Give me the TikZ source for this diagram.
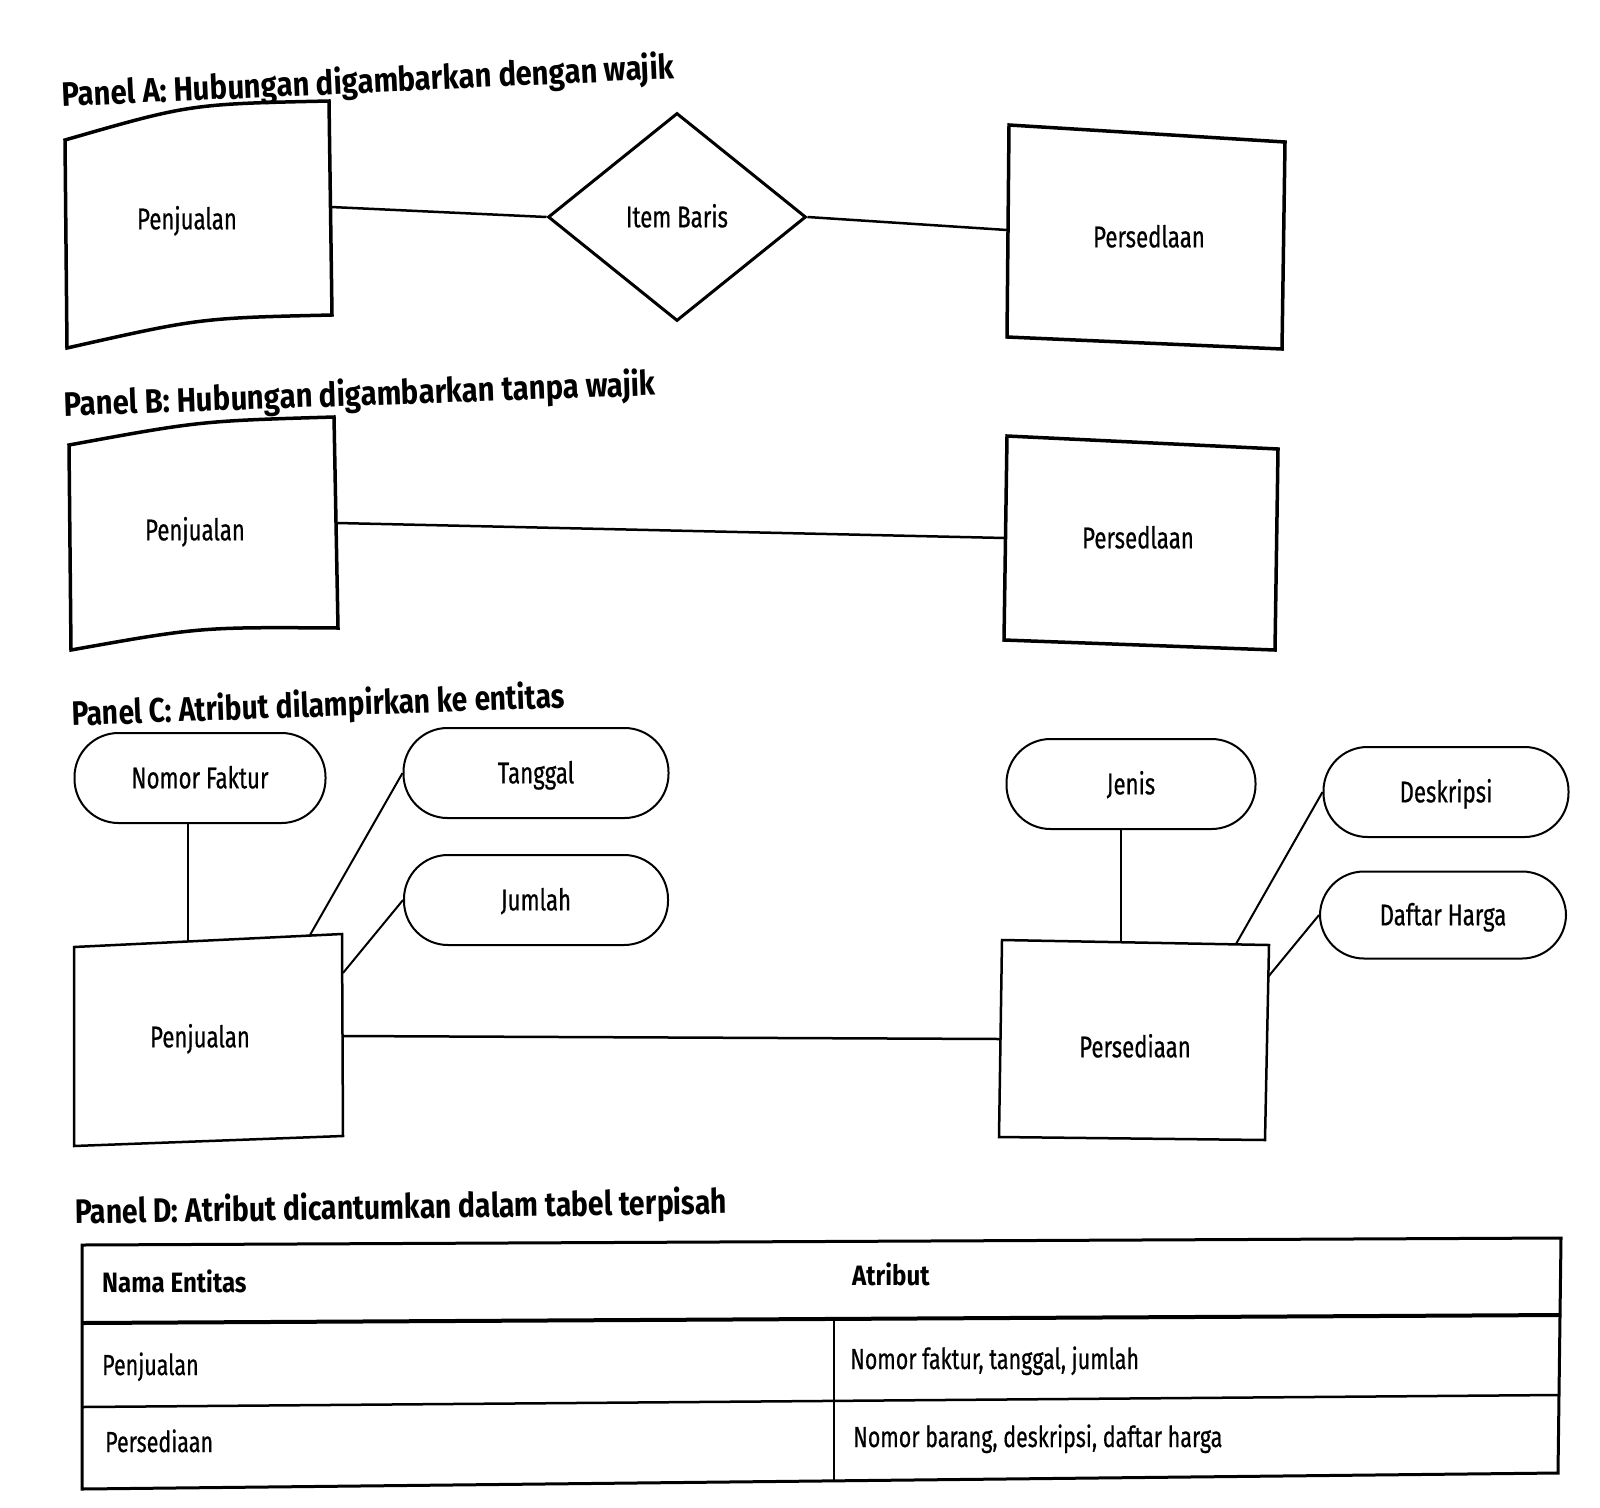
\documentclass[tikz,border=0pt]{standalone}
\usepackage{fontspec}
\setmainfont{Fira Sans}[FakeStretch=0.74, FakeBold=0.5]
\newfontfamily\ttlfont{Fira Sans}[FakeStretch=0.86]
\usetikzlibrary{shapes.geometric}
\begin{document}
\begin{tikzpicture}[x=1pt,y=-1pt,
  ent/.style={line width=3.5pt, line join=miter},
  entc/.style={line width=2.5pt, line join=miter},
  conn/.style={line width=2pt},
  lbl/.style={font=\fontsize{30}{34}\selectfont, inner sep=0pt, text height=20.7pt, text depth=0pt},
  attr/.style={lbl, draw, line width=2pt, rounded corners=44pt, minimum height=90pt},
  ttl/.style={font=\ttlfont\bfseries\fontsize{34}{40}\selectfont, inner sep=0pt, text height=23.4pt, text depth=0pt},
  tbl/.style={font=\fontsize{29}{33}\selectfont, inner sep=0pt, anchor=west, text height=20pt, text depth=0pt},
  tblh/.style={tbl, font=\ttlfont\bfseries\fontsize{28}{33}\selectfont},
]
\useasboundingbox (0,0) rectangle (1600,1507);

% ---------- Panel A ----------
\node[ttl, rotate=2.6] (tA) at (368,81) {Panel A: Hubungan digambarkan dengan wajik};
\coordinate (pA-tl) at (65,140);
\coordinate (pA-tr) at (329,101);
\coordinate (pA-br) at (332,315);
\coordinate (pA-bl) at (67,348);
\draw[ent] (pA-tl) .. controls (190,104) .. (pA-tr) -- (pA-br) .. controls (200,318) .. (pA-bl) -- cycle;
\node[lbl] (pA) at (187,219) {Penjualan};
\coordinate (pA-e) at (331,207);

\node[draw, diamond, line width=3pt, minimum width=258pt, minimum height=208pt, inner sep=0pt, lbl] (ib) at (677,217) {Item Baris};

\coordinate (sA-tl) at (1009,125);
\coordinate (sA-tr) at (1285,142);
\coordinate (sA-br) at (1282,349);
\coordinate (sA-bl) at (1007,337);
\draw[ent] (sA-tl) -- (sA-tr) -- (sA-br) -- (sA-bl) -- cycle;
\node[lbl] (sA) at (1149,237) {Persedlaan};
\coordinate (sA-w) at (1007,230);

\draw[conn, line width=2.5pt] (pA-e) -- (ib.west);
\draw[conn, line width=2.5pt] (ib.east) -- (sA-w);

% ---------- Panel B ----------
\node[ttl, rotate=2.0] (tB) at (360,394) {Panel B: Hubungan digambarkan tanpa wajik};
\coordinate (pB-tl) at (69,445);
\coordinate (pB-tr) at (334,417);
\coordinate (pB-br) at (338,628);
\coordinate (pB-bl) at (71,650);
\draw[ent] (pB-tl) .. controls (200,421) .. (pB-tr) -- (pB-br) .. controls (200,627) .. (pB-bl) -- cycle;
\node[lbl] (pB) at (195,530) {Penjualan};
\coordinate (pB-e) at (337,523);

\coordinate (sB-tl) at (1007,436);
\coordinate (sB-tr) at (1278,449);
\coordinate (sB-br) at (1275,650);
\coordinate (sB-bl) at (1004,640);
\draw[ent] (sB-tl) -- (sB-tr) -- (sB-br) -- (sB-bl) -- cycle;
\node[lbl] (sB) at (1138,538) {Persedlaan};
\coordinate (sB-w) at (1005,538);

\draw[conn, line width=2.5pt] (pB-e) -- (sB-w);

% ---------- Panel C ----------
\node[ttl, rotate=2.1] (tC) at (318,705) {\scalebox{0.962}[1]{Panel C: Atribut dilampirkan ke entitas}};

\node[attr, minimum width=251pt] (nf) at (200,778) {Nomor Faktur};
\node[attr, minimum width=265pt] (tg) at (536,773) {Tanggal};
\node[attr, minimum width=264pt] (jm) at (536,900) {Jumlah};
\node[attr, minimum width=249pt] (jn) at (1131,784) {Jenis};
\node[attr, minimum width=245pt] (ds) at (1446,792) {Deskripsi};
\node[attr, minimum width=246pt, minimum height=87pt] (dh) at (1443,915) {Daftar Harga};

\coordinate (pC-tl) at (74,947);
\coordinate (pC-tr) at (342,934);
\coordinate (pC-br) at (343,1136);
\coordinate (pC-bl) at (74,1146);
\draw[entc] (pC-tl) -- (pC-tr) -- (pC-br) -- (pC-bl) -- cycle;
\node[lbl] (pC) at (200,1037) {Penjualan};
\coordinate (pC-n) at (188,941);
\coordinate (pC-ne) at (310,935);
\coordinate (pC-e1) at (343,973);
\coordinate (pC-e) at (343,1036);

\coordinate (sC-tl) at (1002,940);
\coordinate (sC-tr) at (1269,945);
\coordinate (sC-br) at (1265,1140);
\coordinate (sC-bl) at (999,1137);
\draw[entc] (sC-tl) -- (sC-tr) -- (sC-br) -- (sC-bl) -- cycle;
\node[lbl] (sC) at (1135,1047) {Persediaan};
\coordinate (sC-n) at (1121,942);
\coordinate (sC-ne) at (1236,944);
\coordinate (sC-e1) at (1268,977);
\coordinate (sC-w) at (1000,1039);

\draw[conn, line width=1.5pt] (pC-n |- nf.south) -- (pC-n);
\draw[conn] (tg.west) -- (pC-ne);
\draw[conn] (jm.west) -- (pC-e1);
\draw[conn, line width=2.5pt] (pC-e) -- (sC-w);
\draw[conn, line width=1.5pt] (sC-n |- jn.south) -- (sC-n);
\draw[conn] (ds.west) -- (sC-ne);
\draw[conn] (dh.west) -- (sC-e1);

% ---------- Panel D ----------
\node[ttl, rotate=0.9] (tD) at (401,1207) {\scalebox{0.971}[1]{Panel D: Atribut dicantumkan dalam tabel terpisah}};
\coordinate (t-tl) at (82,1245);
\coordinate (t-tr) at (1561,1238);
\coordinate (t-br) at (1558,1473);
\coordinate (t-bl) at (82,1489);
\coordinate (h-l) at (82,1323);
\coordinate (h-r) at (1561,1315);
\coordinate (r-l) at (82,1407);
\coordinate (r-r) at (1558,1395);
\coordinate (d-t) at (834,1319);
\coordinate (d-b) at (834,1481);
\draw[line width=3pt, line join=miter] (t-tl) -- (t-tr) -- (t-br) -- (t-bl) -- cycle;
\draw[line width=4pt] (h-l) -- (h-r);
\draw[line width=2.5pt] (r-l) -- (r-r);
\draw[line width=2pt] (d-t) -- (d-b);

\node[tblh] (hn) at (102,1282) {Nama Entitas};
\node[tblh] (ha) at (852,1275) {Atribut};
\node[tbl] (r1a) at (102,1365) {Penjualan};
\node[tbl] (r1b) at (850,1359) {Nomor faktur, tanggal, jumlah};
\node[tbl] (r2a) at (105,1442) {Persediaan};
\node[tbl] (r2b) at (853,1437) {Nomor barang, deskripsi, daftar harga};
\end{tikzpicture}
\end{document}
